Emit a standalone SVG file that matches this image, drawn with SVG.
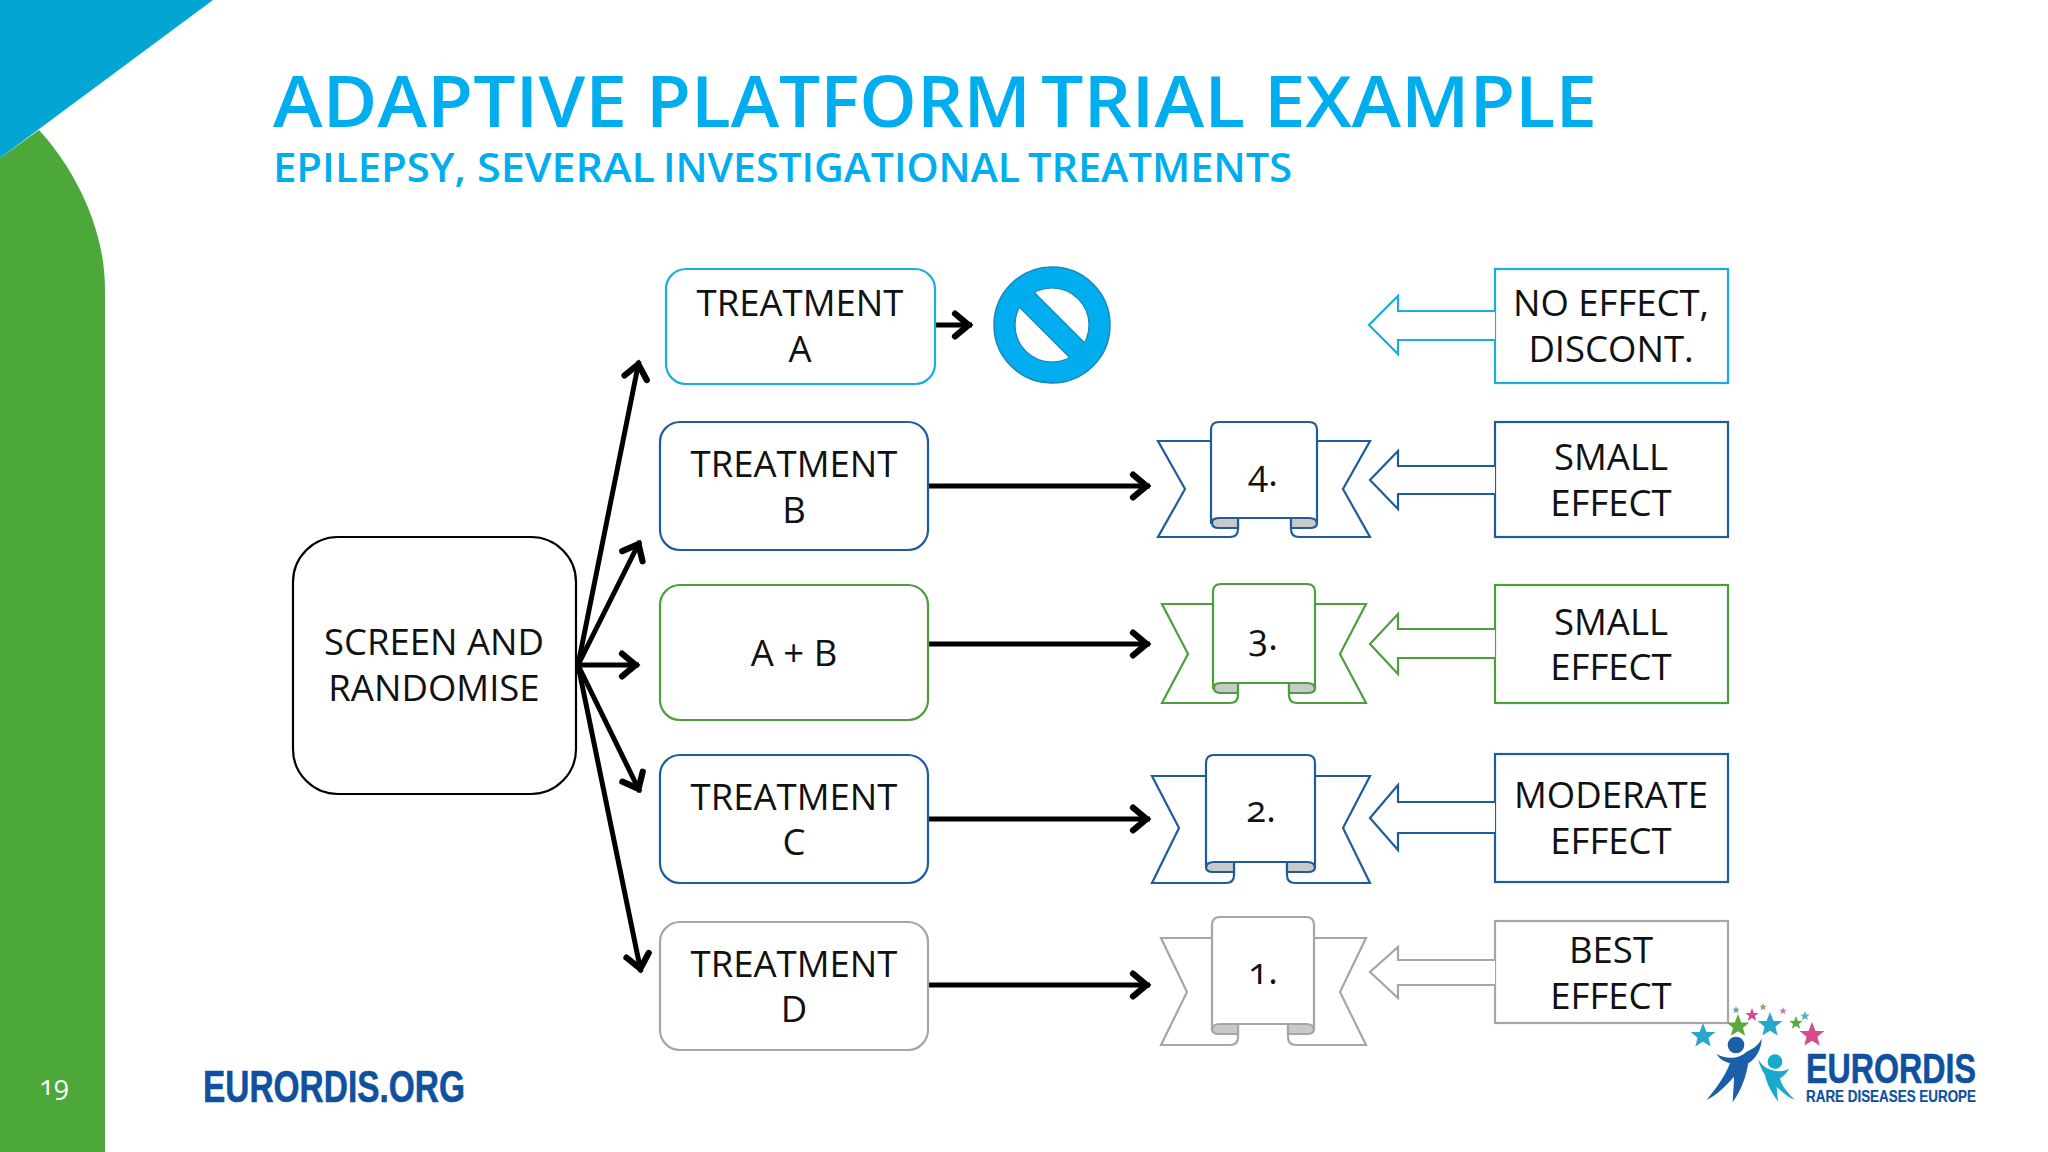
<svg xmlns="http://www.w3.org/2000/svg" width="2048" height="1152" viewBox="0 0 2048 1152">
<style>
text{font-family:"Open Sans","Noto Sans","Liberation Sans",sans-serif;fill:#111;font-size:36.5px;text-anchor:middle;font-variant-numeric:oldstyle-nums}
.t{fill:#00AEEF;font-weight:600;text-anchor:start}
.logo{font-family:"Liberation Sans",sans-serif;font-weight:700;fill:#0F519F;stroke:#0F519F;stroke-width:.6;text-anchor:start}
.n{fill:none;stroke-width:2.2}
.box{fill:#fff;stroke-width:2.2}
.lb{stroke:#1AADE0}.db{stroke:#1F5C9E}.gr{stroke:#4E9E3E}.gy{stroke:#A6A6A6}
.fold{fill:#C9C9C9}
.ar{fill:none;stroke:#000;stroke-width:5;marker-end:url(#h)}
</style>
<defs>
<marker id="h" markerUnits="userSpaceOnUse" markerWidth="34" markerHeight="34" refX="28" refY="14" orient="auto" viewBox="0 0 30 28"><path d="M13 4L25 14L13 24" fill="none" stroke="#000" stroke-width="5.5" stroke-linecap="round"/></marker>
<polygon id="s" points="0,-1 .27,-.3 .95,-.3 .42,.14 .59,.81 0,.44 -.59,.81 -.42,.14 -.95,-.3 -.27,-.3"/>
</defs>
<rect width="2048" height="1152" fill="#fff"/>
<path d="M0 158L39 130C72 166 105 225 105 290V1152H0Z" fill="#4DA83A"/>
<path d="M0 0H213L0 158Z" fill="#03A6D3"/>
<text class="t" y="127" lengthAdjust="spacingAndGlyphs" style="font-size:71px"><tspan x="273" textLength="354" lengthAdjust="spacingAndGlyphs">ADAPTIVE</tspan> <tspan x="646" textLength="385" lengthAdjust="spacingAndGlyphs">PLATFORM</tspan> <tspan x="1041" textLength="204" lengthAdjust="spacingAndGlyphs">TRIAL</tspan> <tspan x="1264" textLength="333" lengthAdjust="spacingAndGlyphs">EXAMPLE</tspan></text>
<text class="t" y="182" style="font-size:39px"><tspan x="273" textLength="193" lengthAdjust="spacingAndGlyphs">EPILEPSY,</tspan> <tspan x="477" textLength="178" lengthAdjust="spacingAndGlyphs">SEVERAL</tspan> <tspan x="663" textLength="357" lengthAdjust="spacingAndGlyphs">INVESTIGATIONAL</tspan> <tspan x="1028" textLength="264" lengthAdjust="spacingAndGlyphs">TREATMENTS</tspan></text>
<text x="54" y="1095" style="fill:#fff;font-size:27px">19</text>
<text class="logo" x="203" y="1102" textLength="262" lengthAdjust="spacingAndGlyphs" style="font-size:44px">EURORDIS.ORG</text>

<g id="connectors">
<path class="ar" d="M578 665L639 361"/>
<path class="ar" d="M578 665L640 541"/>
<path class="ar" d="M578 665H639"/>
<path class="ar" d="M578 665L640 792"/>
<path class="ar" d="M578 665L641 972"/>
<path class="ar" d="M935 325H972"/>
<path class="ar" d="M929 486H1150"/>
<path class="ar" d="M929 644H1150"/>
<path class="ar" d="M929 819H1150"/>
<path class="ar" d="M929 985H1150"/>
</g>

<g id="screen"><rect class="box" x="293" y="537" width="283" height="257" rx="45" stroke="#000"/><text x="434" y="655">SCREEN AND</text><text x="434" y="701">RANDOMISE</text></g>
<g id="treatA"><rect class="box lb" x="666" y="269" width="269" height="115" rx="20"/><text x="800" y="316">TREATMENT</text><text x="800" y="362">A</text></g>
<g id="treatB"><rect class="box db" x="660" y="422" width="268" height="128" rx="20"/><text x="794" y="477">TREATMENT</text><text x="794" y="523">B</text></g>
<g id="treatAB"><rect class="box gr" x="660" y="585" width="268" height="135" rx="20"/><text x="794" y="666">A + B</text></g>
<g id="treatC"><rect class="box db" x="660" y="755" width="268" height="128" rx="20"/><text x="794" y="810">TREATMENT</text><text x="794" y="855">C</text></g>
<g id="treatD"><rect class="box gy" x="660" y="922" width="268" height="128" rx="20"/><text x="794" y="977">TREATMENT</text><text x="794" y="1022">D</text></g>

<g id="stop"><circle cx="1052" cy="325" r="58" fill="#00AEEF" stroke="#1B86B8" stroke-width="1.5"/><circle cx="1052" cy="325" r="37" fill="#fff" stroke="#1B86B8" stroke-width="1.2"/><path d="M1026 299L1078 351" stroke="#00AEEF" stroke-width="21"/><path d="M1034.3 292.5L1084.5 342.7M1019.5 307.3L1069.7 357.5" stroke="#1B86B8" stroke-width="1.2" fill="none"/></g>

<g id="ribbon4">
<path class="n db" d="M1211 441H1158L1185 489L1158 537H1230Q1238 537 1238 529V518M1317 441H1370L1343 489L1370 537H1299Q1291 537 1291 529V518"/>
<path class="fold db" stroke-width="2.2" d="M1238 518V528H1219Q1212 528 1212 523Q1212 518 1219 518ZM1291 518V528H1310Q1317 528 1317 523Q1317 518 1310 518Z"/>
<path class="box db" d="M1219 518Q1211 518 1211 524V430Q1211 422 1219 422H1309Q1317 422 1317 430V524Q1317 518 1309 518Z"/>
<text x="1263" y="486">4.</text></g>
<g id="ribbon3">
<path class="n gr" d="M1213 604H1162L1188 654L1162 703H1230Q1238 703 1238 695V683M1315 604H1366L1340 654L1366 703H1297Q1289 703 1289 695V683"/>
<path class="fold gr" stroke-width="2.2" d="M1238 683V693H1221Q1214 693 1214 688Q1214 683 1221 683ZM1289 683V693H1308Q1315 693 1315 688Q1315 683 1308 683Z"/>
<path class="box gr" d="M1221 683Q1213 683 1213 689V592Q1213 584 1221 584H1307Q1315 584 1315 592V689Q1315 683 1307 683Z"/>
<text x="1263" y="650">3.</text></g>
<g id="ribbon2">
<path class="n db" d="M1206 776H1152L1179 828L1152 883H1226Q1234 883 1234 875V862M1315 776H1370L1343 828L1370 883H1295Q1287 883 1287 875V862"/>
<path class="fold db" stroke-width="2.2" d="M1234 862V872H1213Q1206 872 1206 867Q1206 862 1213 862ZM1287 862V872H1308Q1315 872 1315 867Q1315 862 1308 862Z"/>
<path class="box db" d="M1214 862Q1206 862 1206 868V763Q1206 755 1214 755H1307Q1315 755 1315 763V868Q1315 862 1307 862Z"/>
<text x="1261" y="822">2.</text></g>
<g id="ribbon1">
<path class="n gy" d="M1212 938H1161L1187 992L1161 1045H1230Q1238 1045 1238 1037V1024M1314 938H1366L1340 992L1366 1045H1296Q1288 1045 1288 1037V1024"/>
<path class="fold gy" stroke-width="2.2" d="M1238 1024V1034H1219Q1212 1034 1212 1029Q1212 1024 1219 1024ZM1288 1024V1034H1307Q1314 1034 1314 1029Q1314 1024 1307 1024Z"/>
<path class="box gy" d="M1220 1024Q1212 1024 1212 1030V925Q1212 917 1220 917H1306Q1314 917 1314 925V1030Q1314 1024 1306 1024Z"/>
<text x="1263" y="984">1.</text></g>

<g id="outA"><rect class="box lb" x="1495" y="269" width="233" height="114"/><path class="box lb" d="M1495 311H1398V296L1369 325L1398 354V340H1495"/><text x="1611" y="316">NO EFFECT,</text><text x="1611" y="362">DISCONT.</text></g>
<g id="outB"><rect class="box db" x="1495" y="422" width="233" height="115"/><path class="box db" d="M1495 466H1398V451L1370 480L1398 509V494H1495"/><text x="1611" y="470">SMALL</text><text x="1611" y="516">EFFECT</text></g>
<g id="outAB"><rect class="box gr" x="1495" y="585" width="233" height="118"/><path class="box gr" d="M1495 629H1398V614L1370 644L1398 674V658H1495"/><text x="1611" y="635">SMALL</text><text x="1611" y="680">EFFECT</text></g>
<g id="outC"><rect class="box db" x="1495" y="754" width="233" height="128"/><path class="box db" d="M1495 802H1398V785L1370 818L1398 850V833H1495"/><text x="1611" y="808">MODERATE</text><text x="1611" y="854">EFFECT</text></g>
<g id="outD"><rect class="box gy" x="1495" y="921" width="233" height="102"/><path class="box gy" d="M1495 960H1398V947L1370 972L1398 998V985H1495"/><text x="1611" y="963">BEST</text><text x="1611" y="1009">EFFECT</text></g>

<g id="logo">
<use href="#s" transform="translate(1703 1036) scale(13)" fill="#2BA6CB"/>
<use href="#s" transform="translate(1738 1026) scale(12)" fill="#5BA83C"/>
<use href="#s" transform="translate(1770 1025) scale(13)" fill="#2BA6CB"/>
<use href="#s" transform="translate(1752 1015) scale(7)" fill="#D8498F"/>
<use href="#s" transform="translate(1736 1010) scale(4)" fill="#5FAFA5"/>
<use href="#s" transform="translate(1763 1007) scale(4)" fill="#7FAE70"/>
<use href="#s" transform="translate(1783 1011) scale(4)" fill="#C77FA5"/>
<use href="#s" transform="translate(1805 1016) scale(5)" fill="#4FAFC5"/>
<use href="#s" transform="translate(1796 1023) scale(7)" fill="#5BA83C"/>
<use href="#s" transform="translate(1812 1035) scale(13)" fill="#D8498F"/>
<g transform="translate(1660 980) scale(.3333)">
<circle cx="228" cy="195" r="25" fill="#1A5FA8"/>
<path fill="#1A5FA8" d="M170 222C200 240 240 235 260 215C285 205 300 190 305 175C305 205 290 235 265 250C258 290 245 330 218 367C220 330 222 310 222 290C195 320 170 345 140 360C165 330 195 290 210 250C195 245 180 240 170 222Z"/>
<circle cx="345" cy="245" r="22" fill="#18A9CB"/>
<path fill="#18A9CB" d="M295 238C310 265 330 270 345 272C360 275 375 275 388 265C380 280 370 290 360 295C365 320 385 340 405 360C385 352 370 340 350 320C352 340 352 350 355 365C335 340 320 310 315 285C305 270 298 255 295 238Z"/>
</g>
<text class="logo" x="1806" y="1083" textLength="170" lengthAdjust="spacingAndGlyphs" style="font-size:42px">EURORDIS</text>
<text class="logo" x="1806" y="1102" textLength="170" lengthAdjust="spacingAndGlyphs" style="font-size:16px;stroke-width:.2">RARE DISEASES EUROPE</text>
</g>
</svg>
